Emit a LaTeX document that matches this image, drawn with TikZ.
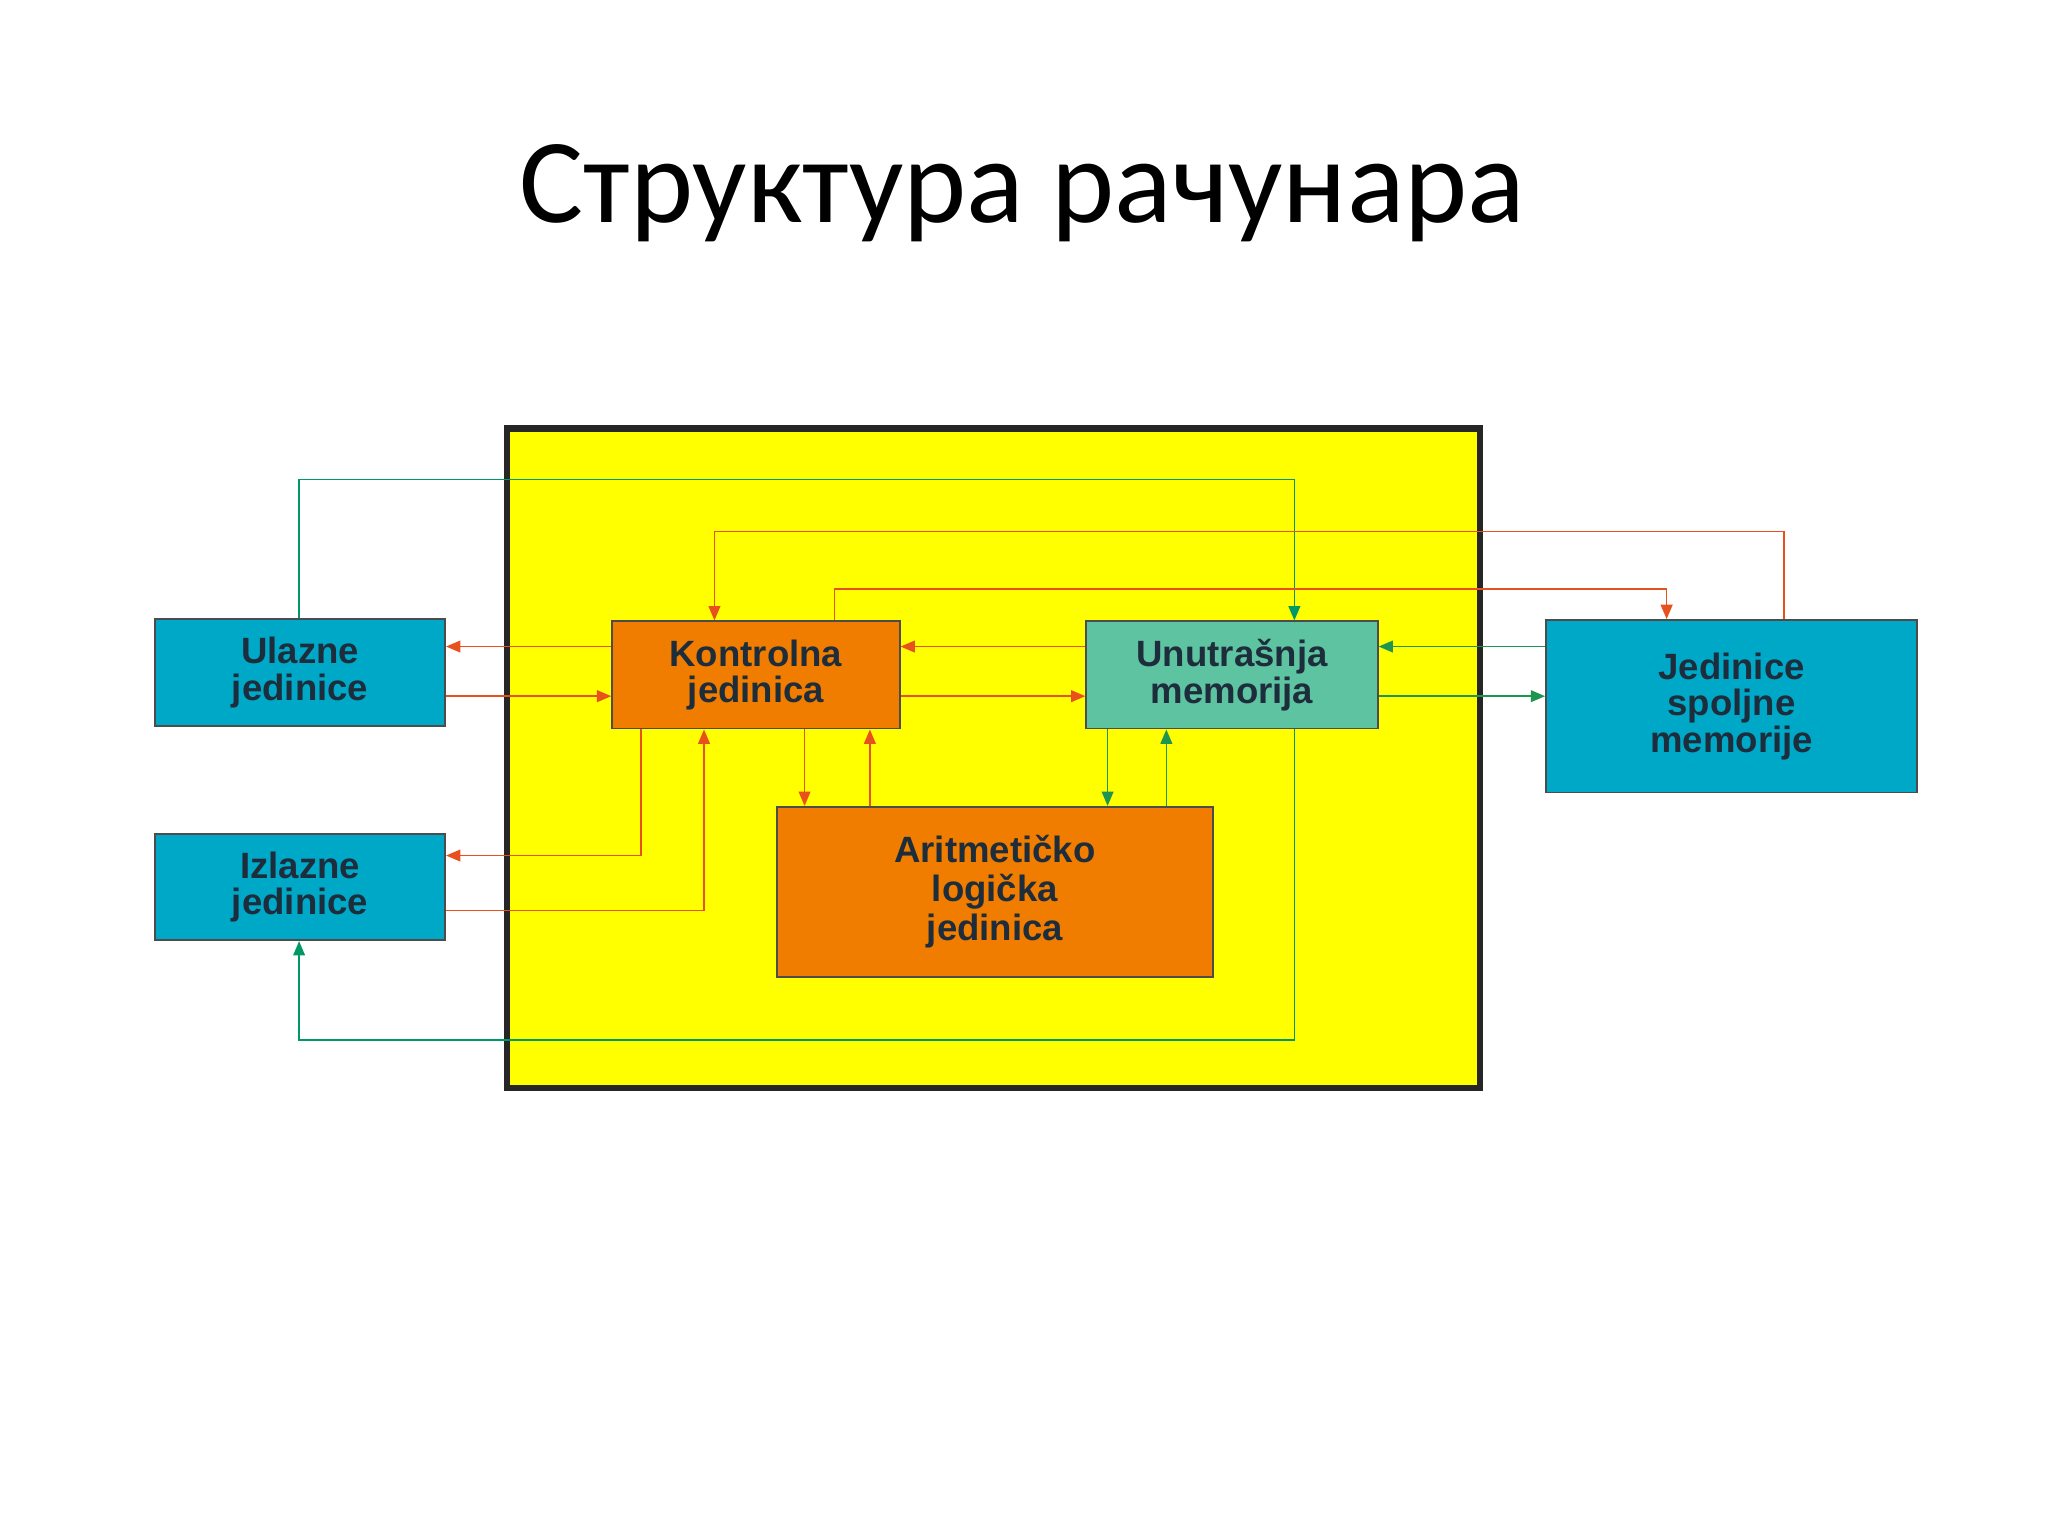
\documentclass[tikz,border=0pt]{standalone}
\usepackage{fontspec}
\setmainfont{Liberation Sans}
\newfontfamily\titlefont{Carlito}
\usetikzlibrary{arrows.meta}
\definecolor{cyanb}{HTML}{00A8C8}
\definecolor{orangeb}{HTML}{F07D00}
\definecolor{tealb}{HTML}{5EC3A0}
\definecolor{yel}{HTML}{FFFF00}
\definecolor{redl}{HTML}{E8501E}
\definecolor{grnl}{HTML}{1E9650}
\definecolor{txt}{HTML}{1E2D3C}
\begin{document}
\begin{tikzpicture}[x=1pt,y=-1pt,
  box/.style={draw=black!70,line width=1.5pt,inner sep=0pt,anchor=north west,align=center,
    font=\fontsize{28}{32}\selectfont\bfseries,text=txt},
  ra/.style={draw=redl,line width=1.3pt,-{Triangle[length=11pt,width=9pt]}},
  ga/.style={draw=grnl,line width=1.3pt,-{Triangle[length=11pt,width=9pt]}}]
\useasboundingbox (0,0) rectangle (1568,1176);
\fill[white] (0,0) rectangle (1568,1176);
\node[font=\titlefont\fontsize{92}{100}\selectfont] (title) at (783,148) {Структура рачунара};
\draw[fill=yel,line width=5pt,draw=black!85] (388,328) rectangle (1133,833);
\node[box,fill=cyanb,minimum width=222pt,minimum height=82pt] (ul) at (118,473) {Ulazne\\[-4pt]jedinice};
\node[box,fill=cyanb,minimum width=222pt,minimum height=81pt] (iz) at (118,638) {Izlazne\\[-4pt]jedinice};
\node[box,fill=orangeb,minimum width=220pt,minimum height=82pt] (kj) at (468,475) {Kontrolna\\[-4pt]jedinica};
\node[box,fill=tealb,minimum width=223pt,minimum height=82pt] (um) at (831,475) {Unutrašnja\\[-4pt]memorija};
\node[box,fill=orangeb,minimum width=334pt,minimum height=130pt] (alu) at (594,617) {Aritmetičko\\[-2pt]logička\\[-2pt]jedinica};
\node[box,fill=cyanb,minimum width=284pt,minimum height=132pt] (js) at (1183,474) {Jedinice\\[-4pt]spoljne\\[-4pt]memorije};
% horizontal links
\draw[ra] (kj.west|-0,495) -- (ul.east|-0,495);
\draw[ra] (ul.east|-0,533) -- (kj.west|-0,533);
\draw[ra] (um.west|-0,495) -- (kj.east|-0,495);
\draw[ra] (kj.east|-0,533) -- (um.west|-0,533);
\draw[ga] (js.west|-0,495) -- (um.east|-0,495);
\draw[ga] (um.east|-0,533) -- (js.west|-0,533);
% vertical links
\draw[ra] (kj.south-|616,0) -- (alu.north-|616,0);
\draw[ra] (alu.north-|666,0) -- (kj.south-|666,0);
\draw[ga] (um.south-|848,0) -- (alu.north-|848,0);
\draw[ga] (alu.north-|893,0) -- (um.south-|893,0);
% Izlazne links
\draw[ra] (kj.south-|491,0) |- (iz.east|-0,655);
\draw[ra] (iz.east|-0,697) -| (kj.south-|539,0);
% long links
\draw[ga,draw=teal!80!green] (ul.north-|229,0) |- (991,367) -- (um.north-|991,0);
\draw[ra] (js.north-|1366,0) |- (547,407) -- (kj.north-|547,0);
\draw[ra] (kj.north-|639,0) |- (1276,451) -- (js.north-|1276,0);
\draw[ga,draw=teal!80!green] (um.south-|991,0) |- (229,796) -- (iz.south-|229,0);
\end{tikzpicture}
\end{document}
